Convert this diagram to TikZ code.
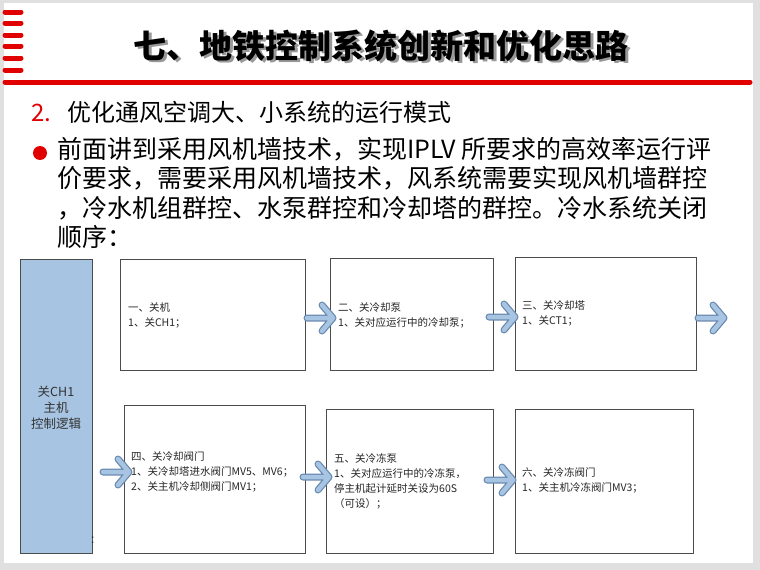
\documentclass[tikz,border=0pt]{standalone}
\usepackage{fontspec}
\setmainfont{Noto Sans CJK SC}
\definecolor{bluefill}{HTML}{A7C4E2}
\definecolor{blueline}{HTML}{6A8AB0}
\definecolor{redbar}{HTML}{E00000}
\newcommand\myarrow[1]{%
  \draw[blueline,line width=7pt,line cap=round,line join=round] (#1) -- ++(26,0) ++(-11,-13) -- ++(11,13) -- ++(-11,13);
  \draw[bluefill,line width=4.5pt,line cap=round,line join=round] (#1) -- ++(26,0) ++(-11,-13) -- ++(11,13) -- ++(-11,13);}
\begin{document}
\begin{tikzpicture}[x=1pt,y=-1pt,
  box/.style={draw=black!70,line width=0.9pt,fill=white,anchor=north west,inner sep=0},
  small/.style={anchor=west,font=\fontsize{10.5}{15}\selectfont,align=left,inner sep=0,text=black!85},
  bar/.style={redbar,line width=5pt,line cap=round}]
\useasboundingbox (0,0) rectangle (760,570);
\fill[black!12] (0,0) rectangle (760,570);
\fill[white] (4,3) rectangle (753,563);
% red bars
\foreach \y in {12,23,35,46,58,70} \draw[bar] (5,\y) -- (21,\y);
\draw[bar] (5,82) -- (750,82);
% title with shadow
\node (title) [font=\fontsize{33}{35}\selectfont\bfseries] at (381,47) {\rlap{\hspace{2.5pt}\raisebox{-2.5pt}{\textcolor{black!40}{七、地铁控制系统创新和优化思路}}}七、地铁控制系统创新和优化思路};
\node (h2) [anchor=west,font=\fontsize{24}{26}\selectfont,inner sep=0] at (31,112) {\textcolor{redbar}{2.}\hspace{16pt}优化通风空调大、小系统的运行模式};
\fill[redbar] (40,153) circle (7);
\node (body) [anchor=north west,font=\fontsize{25}{29.5}\selectfont,align=left,inner sep=0] at (57,137) {前面讲到采用风机墙技术，实现IPLV 所要求的高效率运行评\\价要求，需要采用风机墙技术，风系统需要实现风机墙群控\\，冷水机组群控、水泵群控和冷却塔的群控。冷水系统关闭\\顺序：};
% left box
\node (left) [box,fill=bluefill,minimum width=72,minimum height=294] at (20,259) {};
\node (lefttext) [font=\fontsize{12.5}{16}\selectfont,align=center,text=black!80] at (56,408) {关CH1\\主机\\控制逻辑};
\node (stray) [small] at (90,540) {：};
% boxes
\node (b1) [box,minimum width=185,minimum height=111] at (120,259) {};
\node (b2) [box,minimum width=163,minimum height=112] at (330,258) {};
\node (b3) [box,minimum width=181,minimum height=113] at (515,257) {};
\node (b4) [box,minimum width=181,minimum height=148] at (124,405) {};
\node (b5) [box,minimum width=167,minimum height=144] at (326,409) {};
\node (b6) [box,minimum width=178,minimum height=144] at (515,409) {};
\node (t1) [small] at (128,315) {一、关机\\1、关CH1；};
\node (t2) [small] at (338,315) {二、关冷却泵\\1、关对应运行中的冷却泵；};
\node (t3) [small] at (522,313) {三、关冷却塔\\1、关CT1；};
\node (t4) [small] at (131,472) {四、关冷却阀门\\1、关冷却塔进水阀门MV5、MV6；\\2、关主机冷却侧阀门MV1；};
\node (t5) [small] at (334,481) {五、关冷冻泵\\1、关对应运行中的冷冻泵，\\停主机起计延时关设为60S\\（可设）；};
\node (t6) [small] at (522,480) {六、关冷冻阀门\\1、关主机冷冻阀门MV3；};
% arrows
\myarrow{307,318}
\myarrow{489,317}
\myarrow{698,318}
\myarrow{103,472}
\myarrow{303,477}
\myarrow{487,480}
\end{tikzpicture}
\end{document}
